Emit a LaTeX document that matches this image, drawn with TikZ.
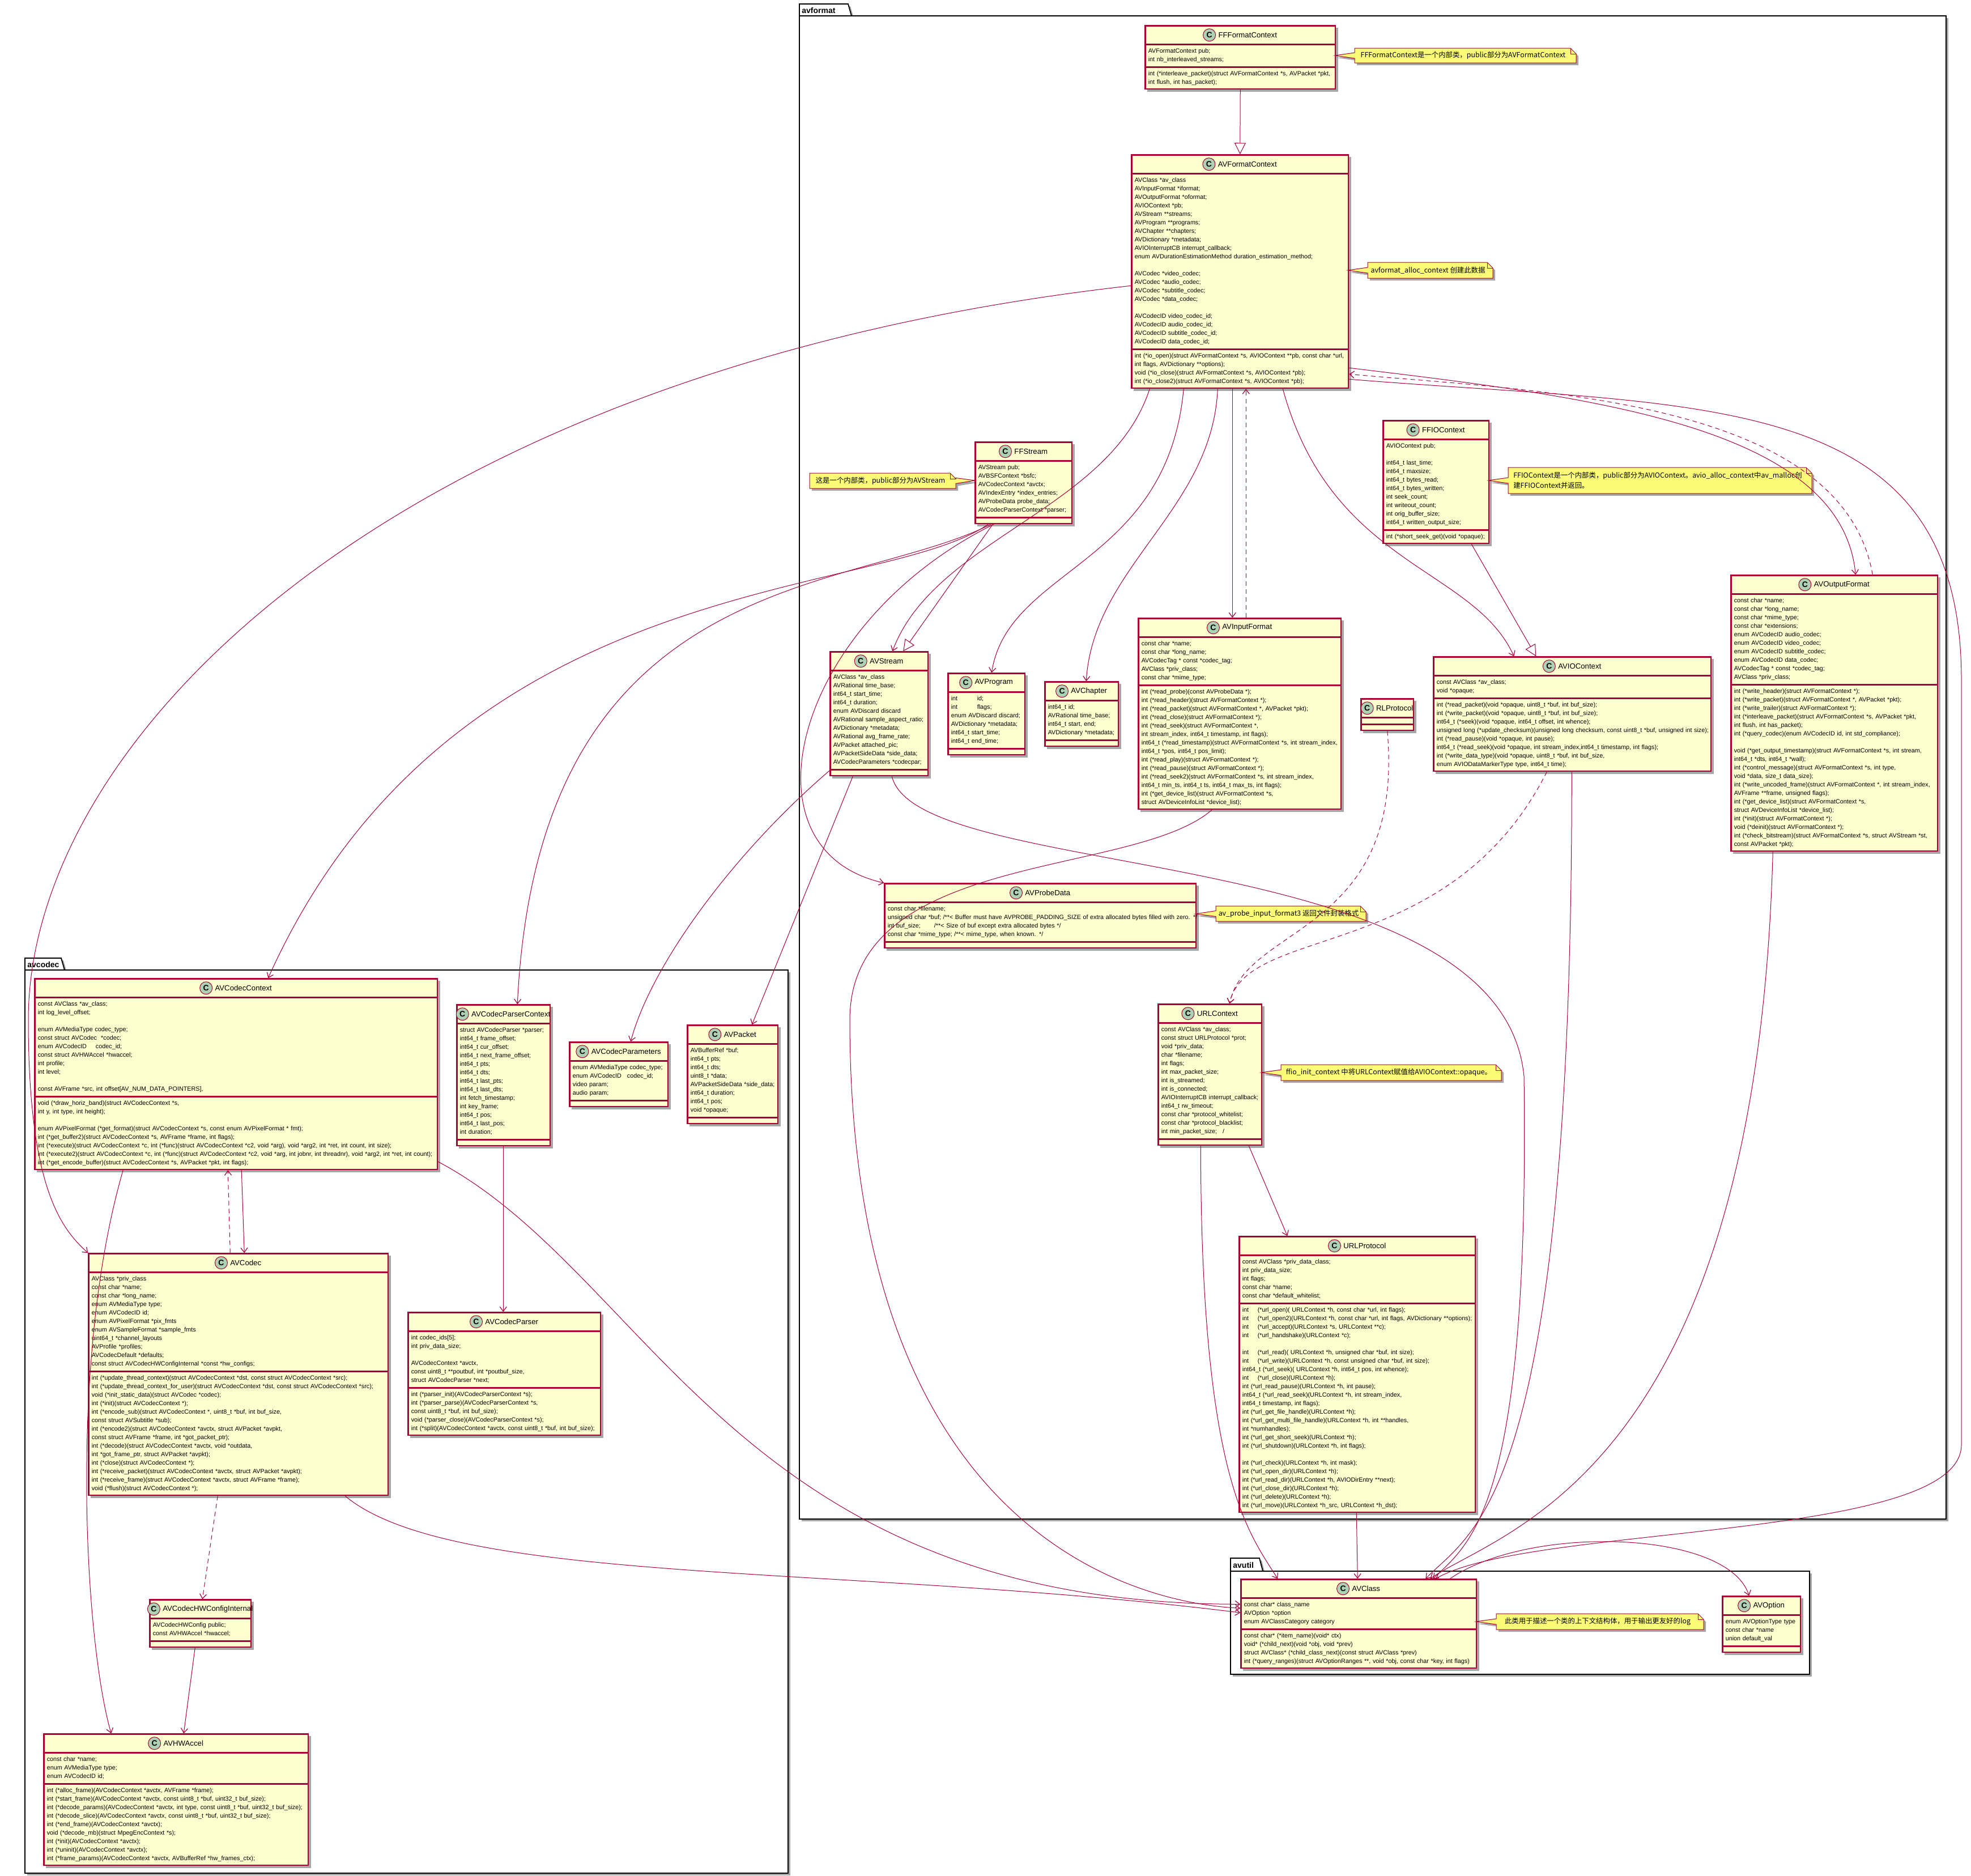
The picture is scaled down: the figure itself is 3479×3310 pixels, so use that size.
\documentclass[tikz,border=0pt]{standalone}
\usepackage{fontspec}
\setmainfont{Liberation Sans}
\newfontfamily\cjk{Noto Sans CJK SC}
\usetikzlibrary{arrows.meta,shadows,fit,backgrounds,calc,positioning}
\pgfdeclarelayer{pkglayer}
\pgfsetlayers{pkglayer,background,main}
\definecolor{classbg}{HTML}{FEFECE}
\definecolor{classline}{HTML}{A80036}
\definecolor{circbg}{HTML}{ADD1B2}
\definecolor{notebg}{HTML}{FBFB77}
\newcommand\secfont{\fontsize{5.4pt}{7.5pt}\selectfont}
\newcommand\secbody[1]{\if\relax\detokenize{#1}\relax\else\begin{tabular}{@{}l@{}}#1\end{tabular}\fi}
\newcommand\ti[1]{\makebox[13.5pt][l]{#1}}
\tikzset{
  ubar/.style={rectangle,draw=classline,line width=.75pt,minimum height=16pt,inner sep=0pt},
  utitle/.style={font=\fontsize{6.6pt}{8pt}\selectfont,inner sep=0pt},
  ucirc/.style={circle,fill=circbg,draw=classline,line width=.5pt,minimum size=11pt,inner sep=0pt,font=\fontsize{7pt}{8pt}\selectfont\bfseries},
  usec/.style={rectangle,draw=classline,line width=.75pt,inner xsep=2.5pt,inner ysep=2pt,minimum height=5pt,font=\secfont},
  ubox/.style={rectangle,draw=classline,line width=.75pt,fill=classbg,inner sep=0pt,drop shadow={shadow xshift=2pt,shadow yshift=-2pt,opacity=0.35,fill=black}},
  notebox/.style={draw=classline,line width=.5pt,fill=notebg,drop shadow={shadow xshift=2pt,shadow yshift=-2pt,opacity=0.35,fill=black}},
  noteline/.style={draw=classline,line width=.5pt},
  notetext/.style={font=\cjk\fontsize{6.2pt}{9pt}\selectfont,inner sep=0pt,align=left},
  pkg/.style={draw=black,line width=.9pt,fill=white,drop shadow={shadow xshift=2pt,shadow yshift=-2pt,opacity=0.35,fill=black}},
  pkglabel/.style={font=\fontsize{7pt}{8pt}\selectfont\bfseries,inner sep=0pt,anchor=west},
  assoc/.style={draw=classline,line width=.5pt,-{Straight Barb[length=4pt,width=6pt,line width=.6pt]}},
  dep/.style={assoc,dash pattern=on 4pt off 3pt},
  inh/.style={draw=classline,line width=.5pt,-{Triangle[open,length=10pt,width=10pt,fill=white]}}
}
\newcommand\uclass[7]{%
  \pgfmathsetmacro\bw{#4*0.5}%
  \pgfmathsetmacro\tw{(#4-10)*0.5}%
  \node[ubar,minimum width=\bw pt,anchor=north west] (#1-t) at (#2,#3) {};
  \node[utitle] (#1-l) at ([xshift=6.5pt]#1-t.center) {#5};
  \node[ucirc,left=2pt of #1-l] (#1-c) {C};
  \node[usec,text width=\tw pt,anchor=north west] (#1-a) at (#1-t.south west) {\secbody{#6}};
  \node[usec,text width=\tw pt,anchor=north west] (#1-m) at (#1-a.south west) {\secbody{#7}};
  \begin{scope}[on background layer]
    \node[ubox,fit=(#1-t)(#1-a)(#1-m)] (#1) {};
  \end{scope}}
\newcommand\unoteL[8]{%
  \pgfmathsetmacro\ym{(#3+#5)/2}%
  \path[notebox] (#2,#3) -- (#4-10,#3) -- (#4,#3+10) -- (#4,#5) -- (#2,#5) -- (#2,\ym+5) -- (#6,#7) -- (#2,\ym-5) -- cycle;
  \draw[noteline] (#4-10,#3) -- (#4-10,#3+10) -- (#4,#3+10);
  \node[notetext] (#1) at ({(#2+#4)/2-4},\ym) {#8};}
\newcommand\unoteR[8]{%
  \pgfmathsetmacro\ym{(#3+#5)/2}%
  \path[notebox] (#2,#3) -- (#4-10,#3) -- (#4,#3+10) -- (#4,\ym-5) -- (#6,#7) -- (#4,\ym+5) -- (#4,#5) -- (#2,#5) -- cycle;
  \draw[noteline] (#4-10,#3) -- (#4-10,#3+10) -- (#4,#3+10);
  \node[notetext] (#1) at ({(#2+#4)/2-4},\ym) {#8};}
\begin{document}
\catcode`\_=12
\begin{tikzpicture}[x=0.5pt,y=-0.5pt]
\begin{pgfonlayer}{pkglayer}
\fill[white] (0,0) rectangle (3479,3310);
\draw[pkg] (1411,28) -- (1411,7) -- (1497,7) -- (1503,28) -- cycle;
\draw[pkg] (1411,28) rectangle (3435,2681);
\draw[pkg] (44,1712) -- (44,1691) -- (108,1691) -- (114,1712) -- cycle;
\draw[pkg] (44,1712) rectangle (1391,3306);
\draw[pkg] (2172,2773) -- (2172,2750) -- (2223,2750) -- (2229,2773) -- cycle;
\draw[pkg] (2172,2773) rectangle (3194,2955);
\end{pgfonlayer}
\useasboundingbox (0,0) rectangle (3479,3310);
\node[pkglabel] (pk1) at (1415,18) {avformat};
\node[pkglabel] (pk2) at (48,1702) {avcodec};
\node[pkglabel] (pk3) at (2176,2762) {avutil};

% classes
\uclass{ffc}{2021}{45}{335}{FFFormatContext}{AVFormatContext pub;\\int nb_interleaved_streams;}{int (*interleave_packet)(struct AVFormatContext *s, AVPacket *pkt,\\int flush, int has_packet);}

\uclass{fmt}{1997}{273}{382}{AVFormatContext}{AVClass *av_class\\AVInputFormat *iformat;\\AVOutputFormat *oformat;\\AVIOContext *pb;\\AVStream **streams;\\AVProgram **programs;\\AVChapter **chapters;\\AVDictionary *metadata;\\AVIOInterruptCB interrupt_callback;\\enum AVDurationEstimationMethod duration_estimation_method;\\ \\AVCodec *video_codec;\\AVCodec *audio_codec;\\AVCodec *subtitle_codec;\\AVCodec *data_codec;\\ \\AVCodecID video_codec_id;\\AVCodecID audio_codec_id;\\AVCodecID subtitle_codec_id;\\AVCodecID data_codec_id;}{int (*io_open)(struct AVFormatContext *s, AVIOContext **pb, const char *url,\\int flags, AVDictionary **options);\\void (*io_close)(struct AVFormatContext *s, AVIOContext *pb);\\int (*io_close2)(struct AVFormatContext *s, AVIOContext *pb);}

\uclass{ffs}{1721}{780}{170}{FFStream}{AVStream pub;\\AVBSFContext *bsfc;\\AVCodecContext *avctx;\\AVIndexEntry *index_entries;\\AVProbeData probe_data;\\AVCodecParserContext *parser;}{}

\uclass{avs}{1465}{1150}{172}{AVStream}{AVClass *av_class\\AVRational time_base;\\int64_t start_time;\\int64_t duration;\\enum AVDiscard discard\\AVRational sample_aspect_ratio;\\AVDictionary *metadata;\\AVRational avg_frame_rate;\\AVPacket attached_pic;\\AVPacketSideData *side_data;\\AVCodecParameters *codecpar;}{}

\uclass{avprog}{1673}{1188}{135}{AVProgram}{\makebox[23pt][l]{int}id;\\\makebox[23pt][l]{int}flags;\\enum AVDiscard discard;\\AVDictionary *metadata;\\int64_t start_time;\\int64_t end_time;}{}

\uclass{avch}{1844}{1203}{129}{AVChapter}{int64_t id;\\AVRational time_base;\\int64_t start, end;\\AVDictionary *metadata;}{}

\uclass{ffio}{2441}{742}{186}{FFIOContext}{AVIOContext pub;\\ \\int64_t last_time;\\int64_t maxsize;\\int64_t bytes_read;\\int64_t bytes_written;\\int seek_count;\\int writeout_count;\\int orig_buffer_size;\\int64_t written_output_size;}{int (*short_seek_get)(void *opaque);}

\uclass{fmtin}{2009}{1091}{357}{AVInputFormat}{const char *name;\\const char *long_name;\\AVCodecTag * const *codec_tag;\\AVClass *priv_class;\\const char *mime_type;}{int (*read_probe)(const AVProbeData *);\\int (*read_header)(struct AVFormatContext *);\\int (*read_packet)(struct AVFormatContext *, AVPacket *pkt);\\int (*read_close)(struct AVFormatContext *);\\int (*read_seek)(struct AVFormatContext *,\\int stream_index, int64_t timestamp, int flags);\\int64_t (*read_timestamp)(struct AVFormatContext *s, int stream_index,\\int64_t *pos, int64_t pos_limit);\\int (*read_play)(struct AVFormatContext *);\\int (*read_pause)(struct AVFormatContext *);\\int (*read_seek2)(struct AVFormatContext *s, int stream_index,\\int64_t min_ts, int64_t ts, int64_t max_ts, int flags);\\int (*get_device_list)(struct AVFormatContext *s,\\struct AVDeviceInfoList *device_list);}

\uclass{avio}{2530}{1159}{489}{AVIOContext}{const AVClass *av_class;\\void *opaque;}{int (*read_packet)(void *opaque, uint8_t *buf, int buf_size);\\int (*write_packet)(void *opaque, uint8_t *buf, int buf_size);\\int64_t (*seek)(void *opaque, int64_t offset, int whence);\\unsigned long (*update_checksum)(unsigned long checksum, const uint8_t *buf, unsigned int size);\\int (*read_pause)(void *opaque, int pause);\\int64_t (*read_seek)(void *opaque, int stream_index,int64_t timestamp, int flags);\\int (*write_data_type)(void *opaque, uint8_t *buf, int buf_size,\\enum AVIODataMarkerType type, int64_t time);}

\uclass{rlp}{2402}{1233}{92}{RLProtocol}{}{}

\uclass{ofmt}{3055}{1015}{364}{AVOutputFormat}{const char *name;\\const char *long_name;\\const char *mime_type;\\const char *extensions;\\enum AVCodecID audio_codec;\\enum AVCodecID video_codec;\\enum AVCodecID subtitle_codec;\\enum AVCodecID data_codec;\\AVCodecTag * const *codec_tag;\\AVClass *priv_class;}{int (*write_header)(struct AVFormatContext *);\\int (*write_packet)(struct AVFormatContext *, AVPacket *pkt);\\int (*write_trailer)(struct AVFormatContext *);\\int (*interleave_packet)(struct AVFormatContext *s, AVPacket *pkt,\\int flush, int has_packet);\\int (*query_codec)(enum AVCodecID id, int std_compliance);\\ \\void (*get_output_timestamp)(struct AVFormatContext *s, int stream,\\int64_t *dts, int64_t *wall);\\int (*control_message)(struct AVFormatContext *s, int type,\\void *data, size_t data_size);\\int (*write_uncoded_frame)(struct AVFormatContext *, int stream_index,\\AVFrame **frame, unsigned flags);\\int (*get_device_list)(struct AVFormatContext *s,\\struct AVDeviceInfoList *device_list);\\int (*init)(struct AVFormatContext *);\\void (*deinit)(struct AVFormatContext *);\\int (*check_bitstream)(struct AVFormatContext *s, struct AVStream *st,\\const AVPacket *pkt);}

\uclass{probe}{1561}{1559}{549}{AVProbeData}{const char *filename;\\unsigned char *buf; /**< Buffer must have AVPROBE_PADDING_SIZE of extra allocated bytes filled with zero. */\\int buf_size;\hspace{12pt}/**< Size of buf except extra allocated bytes */\\const char *mime_type; /**< mime_type, when known. */}{}

\uclass{urlc}{2044}{1772}{182}{URLContext}{const AVClass *av_class;\\const struct URLProtocol *prot;\\void *priv_data;\\char *filename;\\int flags;\\int max_packet_size;\\int is_streamed;\\int is_connected;\\AVIOInterruptCB interrupt_callback;\\int64_t rw_timeout;\\const char *protocol_whitelist;\\const char *protocol_blacklist;\\int min_packet_size;\hspace{5pt}/}{}

\uclass{urlp}{2187}{2182}{416}{URLProtocol}{const AVClass *priv_data_class;\\int priv_data_size;\\int flags;\\const char *name;\\const char *default_whitelist;}{\ti{int}(*url_open)( URLContext *h, const char *url, int flags);\\\ti{int}(*url_open2)(URLContext *h, const char *url, int flags, AVDictionary **options);\\\ti{int}(*url_accept)(URLContext *s, URLContext **c);\\\ti{int}(*url_handshake)(URLContext *c);\\ \\\ti{int}(*url_read)( URLContext *h, unsigned char *buf, int size);\\\ti{int}(*url_write)(URLContext *h, const unsigned char *buf, int size);\\int64_t (*url_seek)( URLContext *h, int64_t pos, int whence);\\\ti{int}(*url_close)(URLContext *h);\\int (*url_read_pause)(URLContext *h, int pause);\\int64_t (*url_read_seek)(URLContext *h, int stream_index,\\int64_t timestamp, int flags);\\int (*url_get_file_handle)(URLContext *h);\\int (*url_get_multi_file_handle)(URLContext *h, int **handles,\\int *numhandles);\\int (*url_get_short_seek)(URLContext *h);\\int (*url_shutdown)(URLContext *h, int flags);\\ \\int (*url_check)(URLContext *h, int mask);\\int (*url_open_dir)(URLContext *h);\\int (*url_read_dir)(URLContext *h, AVIODirEntry **next);\\int (*url_close_dir)(URLContext *h);\\int (*url_delete)(URLContext *h);\\int (*url_move)(URLContext *h_src, URLContext *h_dst);}

\uclass{avclass}{2190}{2787}{415}{AVClass}{const char* class_name\\AVOption *option\\enum AVClassCategory category}{const char* (*item_name)(void* ctx)\\void* (*child_next)(void *obj, void *prev)\\struct AVClass* (*child_class_next)(const struct AVClass *prev)\\int (*query_ranges)(struct AVOptionRanges **, void *obj, const char *key, int flags)}

\uclass{avopt}{3040}{2817}{137}{AVOption}{enum AVOptionType type\\const char *name\\union default_val}{}

\uclass{avcc}{61}{1727}{710}{AVCodecContext}{const AVClass *av_class;\\int log_level_offset;\\ \\enum AVMediaType codec_type;\\const struct AVCodec\ \ *codec;\\enum AVCodecID\hspace{8pt}codec_id;\\const struct AVHWAccel *hwaccel;\\int profile;\\int level;\\ \\const AVFrame *src, int offset[AV_NUM_DATA_POINTERS],}{void (*draw_horiz_band)(struct AVCodecContext *s,\\int y, int type, int height);\\ \\enum AVPixelFormat (*get_format)(struct AVCodecContext *s, const enum AVPixelFormat * fmt);\\int (*get_buffer2)(struct AVCodecContext *s, AVFrame *frame, int flags);\\int (*execute)(struct AVCodecContext *c, int (*func)(struct AVCodecContext *c2, void *arg), void *arg2, int *ret, int count, int size);\\int (*execute2)(struct AVCodecContext *c, int (*func)(struct AVCodecContext *c2, void *arg, int jobnr, int threadnr), void *arg2, int *ret, int count);\\int (*get_encode_buffer)(struct AVCodecContext *s, AVPacket *pkt, int flags);}

\uclass{avcpc}{806}{1773}{164}{AVCodecParserContext}{struct AVCodecParser *parser;\\int64_t frame_offset;\\int64_t cur_offset;\\int64_t next_frame_offset;\\int64_t pts;\\int64_t dts;\\int64_t last_pts;\\int64_t last_dts;\\int fetch_timestamp;\\int key_frame;\\int64_t pos;\\int64_t last_pos;\\int duration;}{}

\uclass{avcpar}{1005}{1839}{173}{AVCodecParameters}{enum AVMediaType codec_type;\\enum AVCodecID\hspace{5pt}codec_id;\\video param;\\audio param;}{}

\uclass{avpkt}{1213}{1809}{159}{AVPacket}{AVBufferRef *buf;\\int64_t pts;\\int64_t dts;\\uint8_t *data;\\AVPacketSideData *side_data;\\int64_t duration;\\int64_t pos;\\void *opaque;}{}

\uclass{avcodec}{156}{2212}{528}{AVCodec}{AVClass *priv_class\\const char *name;\\const char *long_name;\\enum AVMediaType type;\\enum AVCodecID id;\\enum AVPixelFormat *pix_fmts\\enum AVSampleFormat *sample_fmts\\uint64_t *channel_layouts\\AVProfile *profiles;\\AVCodecDefault *defaults;\\const struct AVCodecHWConfigInternal *const *hw_configs;}{int (*update_thread_context)(struct AVCodecContext *dst, const struct AVCodecContext *src);\\int (*update_thread_context_for_user)(struct AVCodecContext *dst, const struct AVCodecContext *src);\\void (*init_static_data)(struct AVCodec *codec);\\int (*init)(struct AVCodecContext *);\\int (*encode_sub)(struct AVCodecContext *, uint8_t *buf, int buf_size,\\const struct AVSubtitle *sub);\\int (*encode2)(struct AVCodecContext *avctx, struct AVPacket *avpkt,\\const struct AVFrame *frame, int *got_packet_ptr);\\int (*decode)(struct AVCodecContext *avctx, void *outdata,\\int *got_frame_ptr, struct AVPacket *avpkt);\\int (*close)(struct AVCodecContext *);\\int (*receive_packet)(struct AVCodecContext *avctx, struct AVPacket *avpkt);\\int (*receive_frame)(struct AVCodecContext *avctx, struct AVFrame *frame);\\void (*flush)(struct AVCodecContext *);}

\uclass{parser}{720}{2316}{339}{AVCodecParser}{int codec_ids[5];\\int priv_data_size;\\ \\AVCodecContext *avctx,\\const uint8_t **poutbuf, int *poutbuf_size,\\struct AVCodecParser *next;}{int (*parser_init)(AVCodecParserContext *s);\\int (*parser_parse)(AVCodecParserContext *s,\\const uint8_t *buf, int buf_size);\\void (*parser_close)(AVCodecParserContext *s);\\int (*split)(AVCodecContext *avctx, const uint8_t *buf, int buf_size);}

\uclass{hwcfg}{264}{2823}{178}{AVCodecHWConfigInternal}{AVCodecHWConfig public;\\const AVHWAccel *hwaccel;}{}

\uclass{hw}{77}{3060}{466}{AVHWAccel}{const char *name;\\enum AVMediaType type;\\enum AVCodecID id;}{int (*alloc_frame)(AVCodecContext *avctx, AVFrame *frame);\\int (*start_frame)(AVCodecContext *avctx, const uint8_t *buf, uint32_t buf_size);\\int (*decode_params)(AVCodecContext *avctx, int type, const uint8_t *buf, uint32_t buf_size);\\int (*decode_slice)(AVCodecContext *avctx, const uint8_t *buf, uint32_t buf_size);\\int (*end_frame)(AVCodecContext *avctx);\\void (*decode_mb)(struct MpegEncContext *s);\\int (*init)(AVCodecContext *avctx);\\int (*uninit)(AVCodecContext *avctx);\\int (*frame_params)(AVCodecContext *avctx, AVBufferRef *hw_frames_ctx);}

% notes
\unoteL{n1}{2391}{85}{2782}{111}{2356}{98}{FFFormatContext是一个内部类，public部分为AVFormatContext}
\unoteL{n2}{2414}{463}{2635}{491}{2379}{477}{avformat_alloc_context 创建此数据}
\unoteR{n3}{1429}{835}{1687}{862}{1721}{848}{这是一个内部类，public部分为AVStream}
\unoteL{n4}{2662}{825}{3198}{871}{2627}{848}{FFIOContext是一个内部类，public部分为AVIOContext。avio_alloc_context中av_malloc创\\建FFIOContext并返回。}
\unoteL{n5}{2146}{1599}{2411}{1626}{2110}{1613}{av_probe_input_format3 返回文件封装格式}
\unoteL{n6}{2261}{1879}{2650}{1907}{2226}{1893}{ffio_init_context 中将URLContext赋值给AVIOContext::opaque。}
\unoteL{n7}{2641}{2848}{3007}{2876}{2605}{2862}{此类用于描述一个类的上下文结构体，用于输出更友好的log}

% connectors
\draw[inh] (ffc.south) -- (fmt.north);
\draw[inh] ($(ffs.south west)+(32,0)$) -- ($(avs.north west)+(130,0)$);
\draw[inh] ($(ffio.south west)+(157,0)$) -- ($(avio.north west)+(182,0)$);
\draw[assoc] ($(fmt.south west)+(33,0)$) .. controls (1960,900) and (1650,950) .. ($(avs.north west)+(111,0)$);
\draw[assoc] ($(fmt.south west)+(93,0)$) .. controls (2060,1000) and (1780,1000) .. ($(avprog.north west)+(78,0)$);
\draw[assoc] ($(fmt.south west)+(153,0)$) .. controls (2140,900) and (1930,1000) .. ($(avch.north west)+(74,0)$);
\draw[assoc] ($(fmt.south west)+(179,0)$) -- ($(fmtin.north west)+(167,0)$);
\draw[dep] ($(fmtin.north west)+(191,0)$) -- ($(fmt.south west)+(203,0)$);
\draw[assoc] ($(fmt.south west)+(268,0)$) .. controls (2350,1000) and (2600,1000) .. ($(avio.north west)+(143,0)$);
\draw[assoc] ($(fmt.north east)+(0,377)$) .. controls (2800,700) and (3250,750) .. ($(ofmt.north west)+(221,0)$);
\draw[dep] ($(ofmt.north west)+(251,0)$) .. controls (3250,700) and (2700,690) .. ($(fmt.north east)+(0,388)$);
\draw[assoc] ($(fmt.north east)+(0,397)$) .. controls (3000,720) and (3462,680) .. (3462,1200) -- (3462,2550) .. controls (3462,2720) and (2700,2690) .. ($(avclass.north west)+(345,0)$);
\draw[assoc] ($(ofmt.south west)+(75,0)$) .. controls (3100,2600) and (2650,2700) .. ($(avclass.north west)+(335,0)$);
\draw[assoc] ($(avio.south west)+(245,0)$) .. controls (2775,2650) and (2600,2700) .. ($(avclass.north west)+(327,0)$);
\draw[dep] ($(avio.south west)+(201,0)$) .. controls (2560,1700) and (2200,1630) .. ($(urlc.north west)+(127,0)$);
\draw[dep] (rlp.south) .. controls (2480,1650) and (2200,1630) .. ($(urlc.north west)+(127,0)$);
\draw[assoc] ($(urlc.south west)+(161,0)$) -- ($(urlp.north west)+(86,0)$);
\draw[assoc] ($(urlc.south west)+(76,0)$) .. controls (2120,2600) and (2200,2700) .. ($(avclass.north west)+(66,0)$);
\draw[assoc] ($(urlp.south west)+(208,0)$) -- ($(avclass.north west)+(207,0)$);
\draw[assoc] ($(avs.south west)+(110,0)$) .. controls (1620,1560) and (2650,1480) .. (2690,1900) .. controls (2700,2650) and (2600,2720) .. ($(avclass.north west)+(340,0)$);
\draw[assoc] ($(fmtin.south west)+(131,0)$) .. controls (2000,1550) and (1500,1500) .. (1500,1800) .. controls (1500,2700) and (2000,2830) .. ($(avclass.north west)+(0,52)$);
\draw[assoc] ($(avs.south west)+(2,-12)$) .. controls (1300,1500) and (1150,1700) .. ($(avcpar.north west)+(109,0)$);
\draw[assoc] ($(avs.south west)+(41,0)$) -- ($(avpkt.north west)+(115,0)$);
\draw[assoc] ($(ffs.south west)+(24,0)$) .. controls (1550,1060) and (800,1000) .. ($(avcc.north west)+(413,0)$);
\draw[assoc] ($(ffs.south west)+(29,0)$) .. controls (1500,1050) and (950,1000) .. ($(avcpc.north west)+(108,0)$);
\draw[assoc] ($(ffs.south west)+(34,0)$) .. controls (1400,1100) and (1300,1500) .. (probe.north west);
\draw[assoc] ($(fmt.north west)+(0,232)$) .. controls (700,650) and (50,1300) .. (50,1800) .. controls (50,2100) and (110,2170) .. (avcodec.north west);
\draw[assoc] ($(avcc.south west)+(366,0)$) -- ($(avcodec.north west)+(276,0)$);
\draw[dep] ($(avcodec.north west)+(251,0)$) -- ($(avcc.south west)+(342,0)$);
\draw[assoc] ($(avcc.south west)+(157,0)$) .. controls (120,2400) and (150,2900) .. ($(hw.north west)+(120,0)$);
\draw[dep] ($(avcodec.south west)+(229,0)$) -- ($(hwcfg.north west)+(94,0)$);
\draw[assoc] ($(hwcfg.south west)+(81,0)$) -- ($(hw.north west)+(248,0)$);
\draw[assoc] ($(avcpc.south west)+(83,0)$) -- ($(parser.north west)+(169,0)$);
\draw[assoc] ($(avcc.south east)+(0,-15)$) .. controls (1150,2250) and (1300,2832) .. ($(avclass.north west)+(0,45)$);
\draw[assoc] ($(avcodec.south west)+(454,0)$) .. controls (800,2800) and (1500,2760) .. ($(avclass.north west)+(0,60)$);
\draw[assoc] ($(avclass.north west)+(370,0)$) .. controls (2700,2690) and (3050,2700) .. ($(avopt.north west)+(48,0)$);
\end{tikzpicture}
\end{document}
